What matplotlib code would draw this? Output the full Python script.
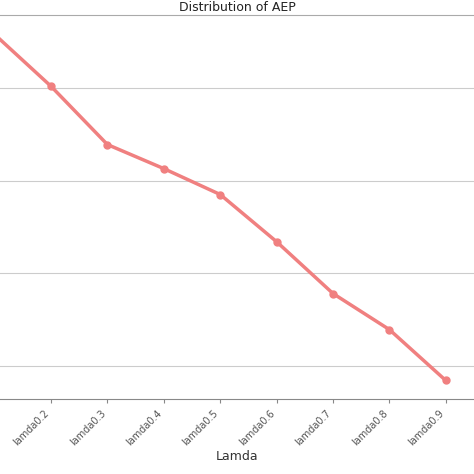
import matplotlib
matplotlib.use("Agg")
import matplotlib.pyplot as plt

labels = ["lamda0.1","lamda0.2","lamda0.3","lamda0.4","lamda0.5","lamda0.6","lamda0.7","lamda0.8","lamda0.9"]
values = [4.58, 4.02, 3.39, 3.13, 2.85, 2.34, 1.78, 1.39, 0.84]

fig = plt.figure(figsize=(4.74, 4.74), dpi=100)
ax = fig.add_axes([0, 75/474, 1, (399-15)/474])
x = list(range(1, len(labels)+1))
ax.plot(x, values, color="#F08080", lw=2.5, marker="o", ms=5, zorder=3)
ax.set_xlim(1.096, 9.5)
ax.set_ylim(0.64, 4.79)
ax.set_yticks([1, 2, 3, 4])
ax.set_yticklabels([])
ax.tick_params(axis="y", length=0)
ax.grid(axis="y", color="#cccccc", lw=0.8)
ax.set_xticks(x[1:])
ax.set_xticklabels(labels[1:], rotation=45, ha="right", fontsize=7, color="#555555")
ax.tick_params(axis="x", length=3, color="#888888")
for s in ["left", "right"]:
    ax.spines[s].set_visible(False)
ax.spines["top"].set_color("#aaaaaa")
ax.spines["bottom"].set_color("#888888")
ax.set_xlabel("Lamda", fontsize=9, color="#333333", labelpad=2)
fig.text(0.5, 0.985, "Distribution of AEP", ha="center", va="center", fontsize=9, color="#222222")
fig.savefig("out.png", dpi=100)
